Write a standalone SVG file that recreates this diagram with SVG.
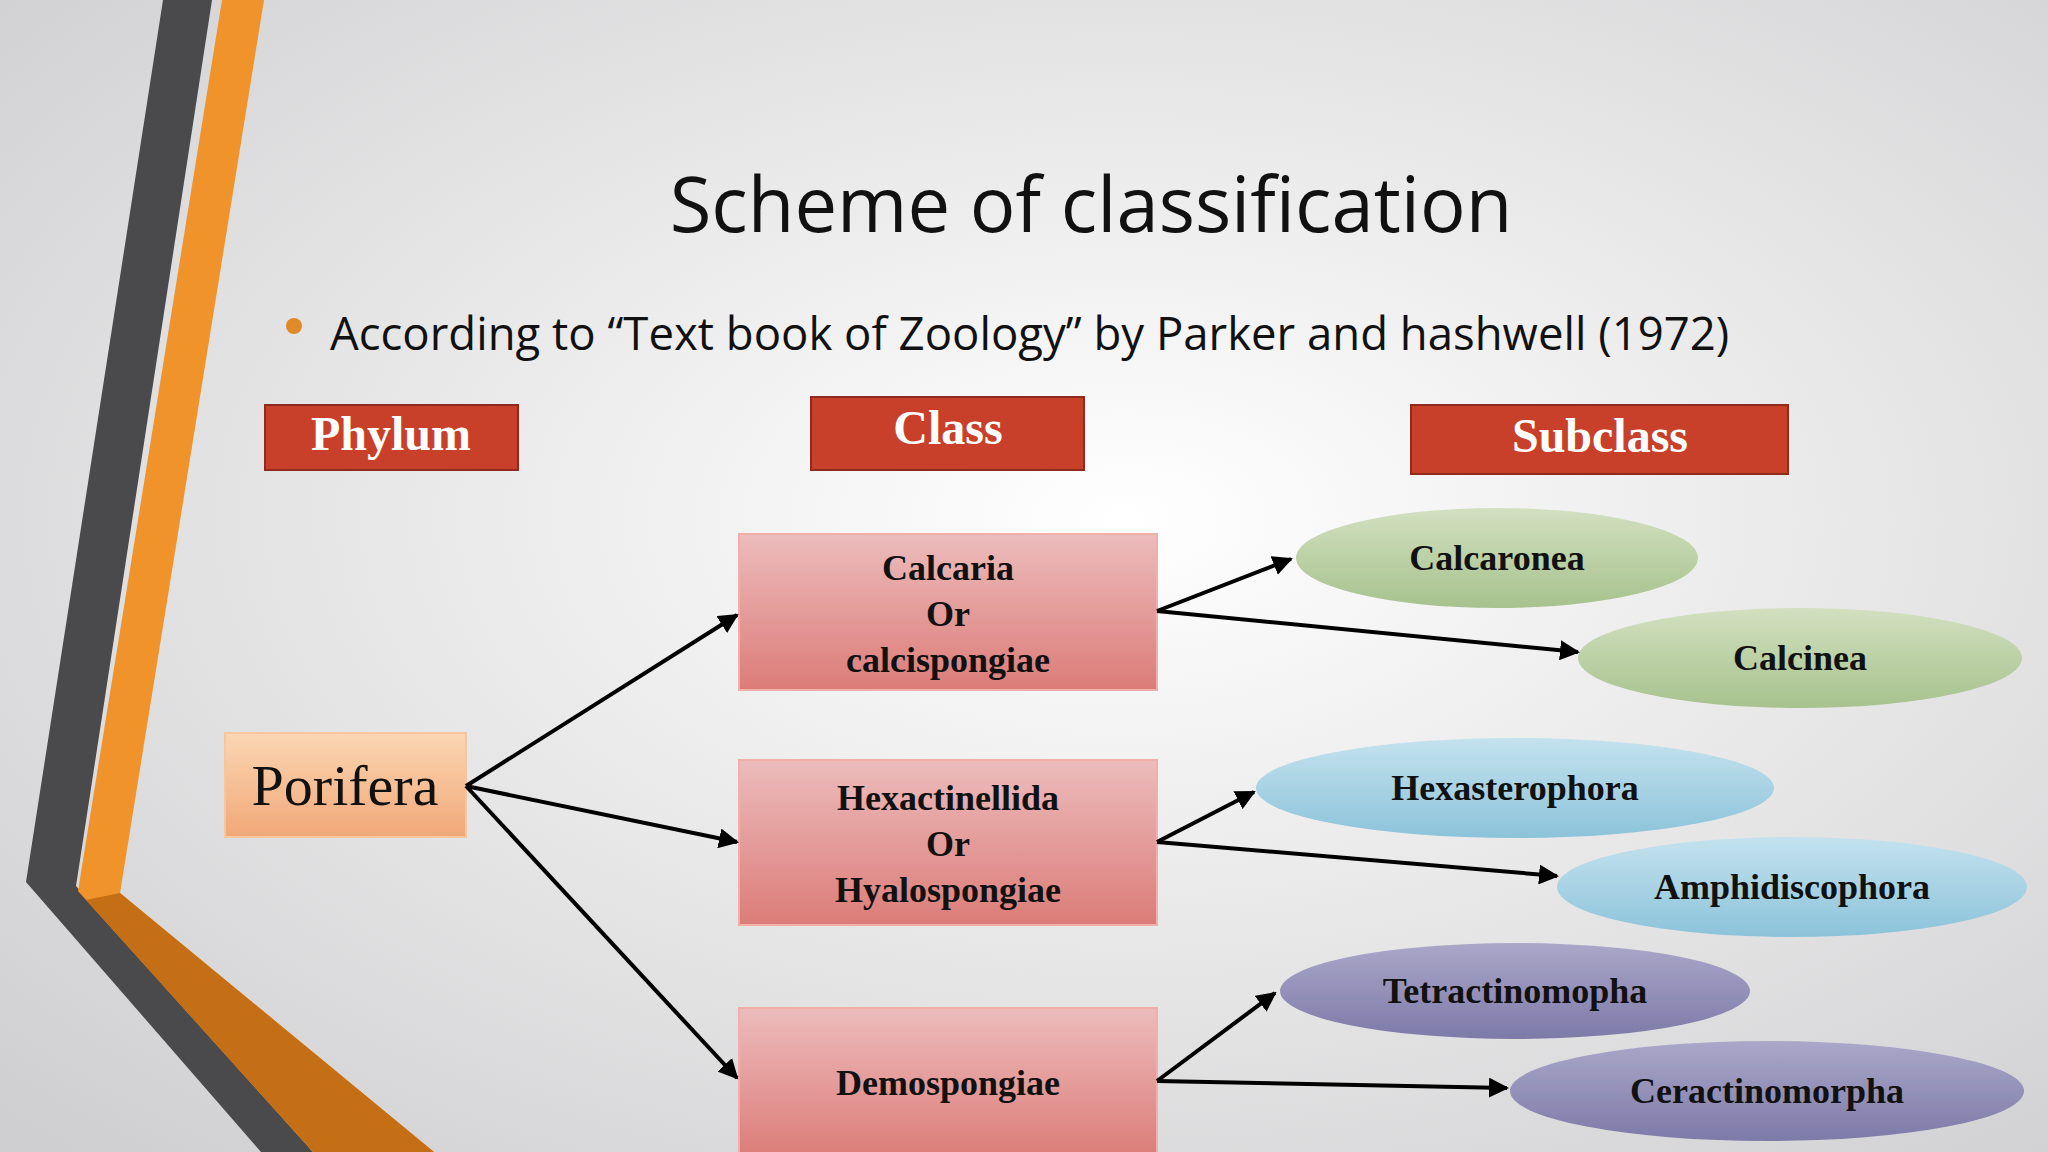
<svg xmlns="http://www.w3.org/2000/svg" width="2048" height="1152" viewBox="0 0 2048 1152">
<defs>
<radialGradient id="bg" cx="0.55" cy="0.45" r="0.75"><stop offset="0" stop-color="#ffffff"/><stop offset="1" stop-color="#cfcfd1"/></radialGradient>
<linearGradient id="pink" x1="0" y1="0" x2="0" y2="1"><stop offset="0" stop-color="#ecbcbc"/><stop offset="1" stop-color="#dc7c78"/></linearGradient>
<linearGradient id="peach" x1="0" y1="0" x2="0" y2="1"><stop offset="0" stop-color="#fbd6b4"/><stop offset="1" stop-color="#f1a877"/></linearGradient>
<linearGradient id="green" x1="0" y1="0" x2="0" y2="1"><stop offset="0" stop-color="#d2e0c0"/><stop offset="1" stop-color="#a7c28e"/></linearGradient>
<linearGradient id="blue" x1="0" y1="0" x2="0" y2="1"><stop offset="0" stop-color="#c4e2ee"/><stop offset="1" stop-color="#8cc3da"/></linearGradient>
<linearGradient id="purple" x1="0" y1="0" x2="0" y2="1"><stop offset="0" stop-color="#aaa7c9"/><stop offset="1" stop-color="#7e7aa8"/></linearGradient>
<marker id="ah" viewBox="0 0 10 10" refX="9" refY="5" markerWidth="5" markerHeight="5" orient="auto"><path d="M0,0L10,5L0,10z" fill="#000"/></marker>
<style>
.hdr{fill:#c9402a;stroke:#8f2a1c;stroke-width:2}
.ht{font-family:"Liberation Serif",serif;font-weight:bold;font-size:48px;fill:#fff;text-anchor:middle}
.lb{font-family:"Liberation Serif",serif;font-weight:bold;font-size:36px;fill:#111;text-anchor:middle}
.box{stroke:#f0b0a8;stroke-width:2}
.c line{stroke:#000;stroke-width:4;marker-end:url(#ah)}
</style>
</defs>
<rect width="2048" height="1152" fill="url(#bg)"/>
<polygon points="163,0 212,0 76,886 313,1152 261,1152 26,882" fill="#4a4a4c"/>
<polygon points="222,0 264,0 120,893 434,1152 313,1152 78,891" fill="#f0932a"/>
<polygon points="120,893 434,1152 313,1152 86,900" fill="#c46f16"/>
<text x="1091" y="232" font-family="Open Sans,sans-serif" font-size="76" fill="#111" text-anchor="middle">Scheme of classification</text>
<circle cx="294" cy="326" r="8" fill="#e08a2a"/>
<text x="330" y="350" font-family="Open Sans,sans-serif" font-size="45.5" fill="#111">According to “Text book of Zoology” by Parker and hashwell (1972)</text>
<g id="h-phylum"><rect class="hdr" x="265" y="405" width="253" height="65"/><text class="ht" x="391" y="450">Phylum</text></g>
<g id="h-class"><rect class="hdr" x="811" y="397" width="273" height="73"/><text class="ht" x="948" y="444">Class</text></g>
<g id="h-subclass"><rect class="hdr" x="1411" y="405" width="377" height="69"/><text class="ht" x="1600" y="452">Subclass</text></g>
<g id="porifera"><rect x="225" y="733" width="241" height="104" fill="url(#peach)" stroke="#f5c7a0" stroke-width="2"/><text x="345" y="805" font-family="Liberation Serif,serif" font-size="58" fill="#111" text-anchor="middle">Porifera</text></g>
<g id="calcaria"><rect class="box" x="739" y="534" width="418" height="156" fill="url(#pink)"/><text class="lb" x="948" y="580">Calcaria</text><text class="lb" x="948" y="626">Or</text><text class="lb" x="948" y="672">calcispongiae</text></g>
<g id="hexactinellida"><rect class="box" x="739" y="760" width="418" height="165" fill="url(#pink)"/><text class="lb" x="948" y="810">Hexactinellida</text><text class="lb" x="948" y="856">Or</text><text class="lb" x="948" y="902">Hyalospongiae</text></g>
<g id="demospongiae"><rect class="box" x="739" y="1008" width="418" height="150" fill="url(#pink)"/><text class="lb" x="948" y="1095">Demospongiae</text></g>
<g id="calcaronea"><ellipse cx="1497" cy="558" rx="201" ry="50" fill="url(#green)"/><text class="lb" x="1497" y="570">Calcaronea</text></g>
<g id="calcinea"><ellipse cx="1800" cy="658" rx="222" ry="50" fill="url(#green)"/><text class="lb" x="1800" y="670">Calcinea</text></g>
<g id="hexasterophora"><ellipse cx="1515" cy="788" rx="259" ry="50" fill="url(#blue)"/><text class="lb" x="1515" y="800">Hexasterophora</text></g>
<g id="amphidiscophora"><ellipse cx="1792" cy="887" rx="235" ry="50" fill="url(#blue)"/><text class="lb" x="1792" y="899">Amphidiscophora</text></g>
<g id="tetractinomopha"><ellipse cx="1515" cy="991" rx="235" ry="48" fill="url(#purple)"/><text class="lb" x="1515" y="1003">Tetractinomopha</text></g>
<g id="ceractinomorpha"><ellipse cx="1767" cy="1091" rx="257" ry="50" fill="url(#purple)"/><text class="lb" x="1767" y="1103">Ceractinomorpha</text></g>
<g id="connectors" class="c">
<line x1="466" y1="786" x2="737" y2="615"/>
<line x1="466" y1="786" x2="737" y2="842"/>
<line x1="466" y1="786" x2="737" y2="1078"/>
<line x1="1157" y1="611" x2="1291" y2="559"/>
<line x1="1157" y1="611" x2="1578" y2="652"/>
<line x1="1157" y1="842" x2="1254" y2="792"/>
<line x1="1157" y1="842" x2="1557" y2="876"/>
<line x1="1157" y1="1081" x2="1275" y2="993"/>
<line x1="1157" y1="1081" x2="1507" y2="1088"/>
</g>
</svg>
